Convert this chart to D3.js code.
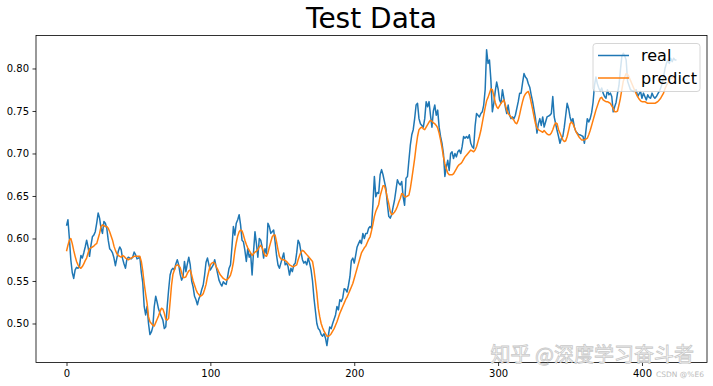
<!DOCTYPE html>
<html>
<head>
<meta charset="utf-8">
<script src="https://cdn.jsdelivr.net/npm/d3@7"></script>
<style>
  body { margin: 0; background: #fff; }
  svg { display: block; font-family: "DejaVu Sans", sans-serif; }
</style>
</head>
<body>
<div id="chart"></div>
<script>
// values, one per test sample (index 0..424)
var real = [
  0.615,0.622,0.600,0.575,0.560,0.553,0.563,0.566,0.565,0.567,
  0.580,0.577,0.583,0.590,0.598,0.590,0.579,0.592,0.602,0.604,
  0.608,0.618,0.630,0.624,0.612,0.606,0.620,0.618,0.612,0.598,
  0.588,0.586,0.583,0.577,0.568,0.577,0.585,0.590,0.587,0.576,
  0.570,0.565,0.576,0.578,0.577,0.576,0.578,0.584,0.581,0.576,
  0.577,0.578,0.560,0.548,0.520,0.510,0.520,0.500,0.487,0.490,
  0.496,0.520,0.532,0.525,0.517,0.512,0.508,0.504,0.494,0.496,
  0.520,0.540,0.557,0.563,0.565,0.563,0.570,0.575,0.569,0.558,
  0.551,0.555,0.573,0.561,0.570,0.578,0.569,0.550,0.543,0.532,
  0.528,0.522,0.529,0.533,0.540,0.545,0.557,0.572,0.577,0.569,
  0.563,0.566,0.569,0.575,0.567,0.559,0.551,0.547,0.544,0.549,
  0.547,0.546,0.555,0.565,0.569,0.590,0.614,0.604,0.618,0.622,
  0.628,0.616,0.598,0.596,0.586,0.573,0.588,0.578,0.582,0.557,
  0.584,0.608,0.594,0.578,0.600,0.598,0.590,0.577,0.588,0.582,
  0.618,0.614,0.606,0.608,0.610,0.596,0.580,0.569,0.565,0.571,
  0.577,0.583,0.569,0.571,0.567,0.557,0.565,0.561,0.569,0.571,
  0.583,0.598,0.594,0.584,0.575,0.571,0.573,0.569,0.577,0.571,
  0.563,0.550,0.530,0.515,0.500,0.494,0.492,0.487,0.485,0.488,
  0.483,0.474,0.486,0.496,0.494,0.500,0.505,0.510,0.520,0.516,
  0.528,0.526,0.530,0.541,0.540,0.537,0.545,0.555,0.574,0.577,
  0.571,0.580,0.590,0.594,0.598,0.594,0.606,0.600,0.606,0.606,
  0.612,0.614,0.612,0.641,0.673,0.649,0.654,0.653,0.675,0.681,
  0.675,0.667,0.659,0.641,0.626,0.624,0.628,0.637,0.645,0.657,
  0.669,0.665,0.663,0.667,0.649,0.639,0.671,0.673,0.692,0.710,
  0.722,0.728,0.741,0.757,0.759,0.741,0.735,0.733,0.731,0.741,
  0.761,0.755,0.761,0.745,0.731,0.750,0.757,0.745,0.751,0.731,
  0.720,0.712,0.700,0.673,0.684,0.692,0.680,0.700,0.702,0.694,
  0.700,0.696,0.702,0.704,0.700,0.708,0.720,0.718,0.720,0.718,
  0.722,0.712,0.708,0.706,0.732,0.747,0.745,0.743,0.747,0.749,
  0.757,0.775,0.822,0.806,0.810,0.786,0.749,0.759,0.773,0.784,
  0.776,0.763,0.759,0.775,0.765,0.755,0.747,0.757,0.745,0.741,
  0.743,0.741,0.745,0.753,0.761,0.771,0.771,0.783,0.794,0.790,
  0.788,0.782,0.778,0.769,0.761,0.751,0.741,0.724,0.735,0.741,
  0.733,0.743,0.731,0.737,0.743,0.744,0.745,0.747,0.767,0.743,
  0.735,0.727,0.720,0.712,0.718,0.720,0.731,0.745,0.759,0.753,
  0.743,0.737,0.741,0.731,0.726,0.724,0.722,0.722,0.721,0.720,
  0.712,0.726,0.741,0.737,0.741,0.748,0.760,0.780,0.790,0.782,
  0.777,0.773,0.777,0.771,0.767,0.765,0.775,0.769,0.771,0.767,
  0.749,0.755,0.760,0.771,0.780,0.798,0.814,0.818,0.815,0.810,
  0.785,0.780,0.775,0.774,0.773,0.774,0.775,0.767,0.770,0.773,
  0.765,0.771,0.767,0.763,0.769,0.766,0.765,0.771,0.767,0.765,
  0.767,0.770,0.773,0.777,0.782,0.790,0.800,0.806,0.810,0.806,
  0.812,0.808,0.812,0.810,0.810
];

var predict = [
  0.585,0.592,0.598,0.600,0.594,0.586,0.579,0.573,0.569,0.566,
  0.565,0.567,0.570,0.574,0.577,0.583,0.588,0.589,0.590,0.591,
  0.593,0.594,0.600,0.606,0.614,0.616,0.615,0.614,0.614,0.612,
  0.608,0.603,0.598,0.591,0.586,0.582,0.580,0.579,0.578,0.580,
  0.579,0.577,0.576,0.575,0.576,0.577,0.578,0.579,0.579,0.579,
  0.579,0.579,0.573,0.562,0.547,0.535,0.524,0.508,0.502,0.500,
  0.498,0.497,0.501,0.505,0.509,0.514,0.518,0.517,0.512,0.505,
  0.504,0.506,0.525,0.545,0.558,0.563,0.568,0.569,0.568,0.566,
  0.560,0.554,0.554,0.555,0.559,0.562,0.563,0.557,0.550,0.545,
  0.540,0.536,0.534,0.532,0.533,0.535,0.540,0.546,0.555,0.562,
  0.569,0.571,0.572,0.571,0.567,0.564,0.560,0.557,0.555,0.553,
  0.552,0.551,0.552,0.554,0.557,0.563,0.572,0.585,0.595,0.603,
  0.608,0.610,0.609,0.604,0.598,0.593,0.589,0.586,0.583,0.580,
  0.582,0.584,0.585,0.587,0.590,0.592,0.589,0.584,0.580,0.579,
  0.583,0.590,0.596,0.602,0.604,0.604,0.596,0.587,0.579,0.576,
  0.575,0.575,0.574,0.573,0.571,0.569,0.568,0.567,0.567,0.568,
  0.569,0.575,0.580,0.584,0.586,0.585,0.583,0.581,0.579,0.577,
  0.575,0.573,0.563,0.550,0.536,0.518,0.508,0.500,0.495,0.491,
  0.488,0.485,0.485,0.486,0.488,0.491,0.494,0.498,0.502,0.507,
  0.512,0.516,0.520,0.524,0.528,0.531,0.535,0.539,0.543,0.547,
  0.553,0.559,0.565,0.571,0.577,0.583,0.586,0.589,0.591,0.595,
  0.599,0.602,0.609,0.617,0.626,0.632,0.636,0.640,0.650,0.656,
  0.662,0.662,0.656,0.648,0.641,0.632,0.628,0.629,0.631,0.634,
  0.638,0.643,0.647,0.653,0.652,0.649,0.649,0.650,0.651,0.659,
  0.670,0.682,0.694,0.708,0.720,0.728,0.730,0.731,0.729,0.728,
  0.731,0.734,0.737,0.739,0.738,0.736,0.735,0.733,0.730,0.724,
  0.716,0.707,0.696,0.688,0.682,0.677,0.675,0.675,0.675,0.676,
  0.679,0.682,0.685,0.687,0.688,0.690,0.693,0.696,0.698,0.700,
  0.702,0.704,0.703,0.702,0.704,0.708,0.714,0.720,0.727,0.736,
  0.745,0.754,0.762,0.766,0.771,0.776,0.775,0.768,0.760,0.755,
  0.753,0.756,0.759,0.761,0.763,0.757,0.751,0.747,0.745,0.743,
  0.741,0.739,0.736,0.735,0.739,0.746,0.754,0.761,0.767,0.770,
  0.772,0.773,0.768,0.760,0.752,0.743,0.735,0.730,0.728,0.727,
  0.726,0.725,0.727,0.725,0.723,0.722,0.722,0.724,0.728,0.733,
  0.736,0.735,0.728,0.724,0.720,0.716,0.714,0.715,0.720,0.727,
  0.735,0.737,0.735,0.731,0.726,0.723,0.720,0.718,0.716,0.716,
  0.716,0.717,0.718,0.722,0.727,0.733,0.739,0.745,0.751,0.756,
  0.761,0.765,0.766,0.763,0.762,0.761,0.761,0.760,0.759,0.756,
  0.753,0.749,0.749,0.750,0.757,0.765,0.775,0.785,0.790,0.794,
  0.793,0.790,0.786,0.782,0.778,0.774,0.770,0.767,0.764,0.762,
  0.761,0.761,0.761,0.760,0.759,0.759,0.759,0.759,0.759,0.759,
  0.760,0.761,0.763,0.765,0.768,0.771,0.776,0.780,0.783,0.786,
  0.788,0.789,0.790,0.791,0.792
];

var xTicks = [0, 100, 200, 300, 400];
var yTicks = [0.50, 0.55, 0.60, 0.65, 0.70, 0.75, 0.80];
var seriesNames = ["real", "predict"];
var seriesColors = ["#1f77b4", "#ff7f0e"];

var W = 713, H = 386;
var margin = { top: 35.5, right: 6, bottom: 23.5, left: 36 },
    width = W - margin.left - margin.right,
    height = H - margin.top - margin.bottom;

var svg = d3.select("#chart").append("svg")
    .attr("width", W)
    .attr("height", H);

// title
svg.append("text")
    .attr("x", margin.left + width / 2)
    .attr("y", 28)
    .attr("text-anchor", "middle")
    .style("font-size", "28px")
    .attr("fill", "#000")
    .text("Test Data");

var g = svg.append("g")
    .attr("transform", "translate(" + margin.left + "," + margin.top + ")");

// matplotlib style 5% padding on x
var n = real.length - 1;
var x = d3.scaleLinear().domain([-0.05 * n, n * 1.05]).range([0, width]);
var y = d3.scaleLinear().domain([0.4541, 0.8388]).range([height, 0]);

var line = d3.line()
    .x(function (d, i) { return x(i); })
    .y(function (d) { return y(d); });

g.append("path")
    .datum(real)
    .attr("fill", "none")
    .attr("stroke", seriesColors[0])
    .attr("stroke-width", 1.5)
    .attr("stroke-linejoin", "round")
    .attr("d", line);

g.append("path")
    .datum(predict)
    .attr("fill", "none")
    .attr("stroke", seriesColors[1])
    .attr("stroke-width", 1.5)
    .attr("stroke-linejoin", "round")
    .attr("d", line);

// axes
var xAxis = g.append("g")
    .attr("transform", "translate(0," + height + ")")
    .call(d3.axisBottom(x).tickValues(xTicks).tickSize(3.5).tickPadding(3.5).tickSizeOuter(0));
var yAxis = g.append("g")
    .call(d3.axisLeft(y).tickValues(yTicks).tickFormat(d3.format(".2f")).tickSize(3.5).tickPadding(3.5).tickSizeOuter(0));

[xAxis, yAxis].forEach(function (a) {
  a.select(".domain").remove();
  a.selectAll("line").attr("stroke", "#000").attr("stroke-width", 0.8);
  a.selectAll("text").attr("fill", "#000").style("font-size", "10px")
    .style("font-family", "'DejaVu Sans', sans-serif");
});

// spines
g.append("rect")
    .attr("width", width)
    .attr("height", height)
    .attr("fill", "none")
    .attr("stroke", "#000")
    .attr("stroke-width", 0.8);

// legend, upper right
var leg = g.append("g")
    .attr("transform", "translate(" + (width - 107 - 7) + ",8)");
leg.append("rect")
    .attr("width", 107)
    .attr("height", 48)
    .attr("rx", 3)
    .attr("fill", "#fff")
    .attr("fill-opacity", 0.8)
    .attr("stroke", "#ccc")
    .attr("stroke-width", 0.8);
seriesNames.forEach(function (name, i) {
  var yy = 12 + i * 22.5;
  leg.append("line")
      .attr("x1", 5).attr("x2", 36)
      .attr("y1", yy).attr("y2", yy)
      .attr("stroke", seriesColors[i])
      .attr("stroke-width", 1.5);
  leg.append("text")
      .attr("x", 48)
      .attr("y", yy + 5.5)
      .style("font-size", "16px")
      .attr("fill", "#000")
      .text(name);
});

// watermarks in the picture
svg.append("text")
    .attr("x", 694)
    .attr("y", 362)
    .attr("text-anchor", "end")
    .style("font-family", "'Noto Sans CJK SC', sans-serif")
    .style("font-size", "20px")
    .attr("fill", "#fff")
    .attr("stroke", "#c8c8c8")
    .attr("stroke-width", 0.8)
    .text("知乎 @深度学习奋斗者");
svg.append("text")
    .attr("x", 656)
    .attr("y", 377)
    .attr("text-anchor", "start")
    .style("font-size", "7.5px")
    .attr("fill", "#bbb")
    .text("CSDN @%E6");
</script>
</body>
</html>
